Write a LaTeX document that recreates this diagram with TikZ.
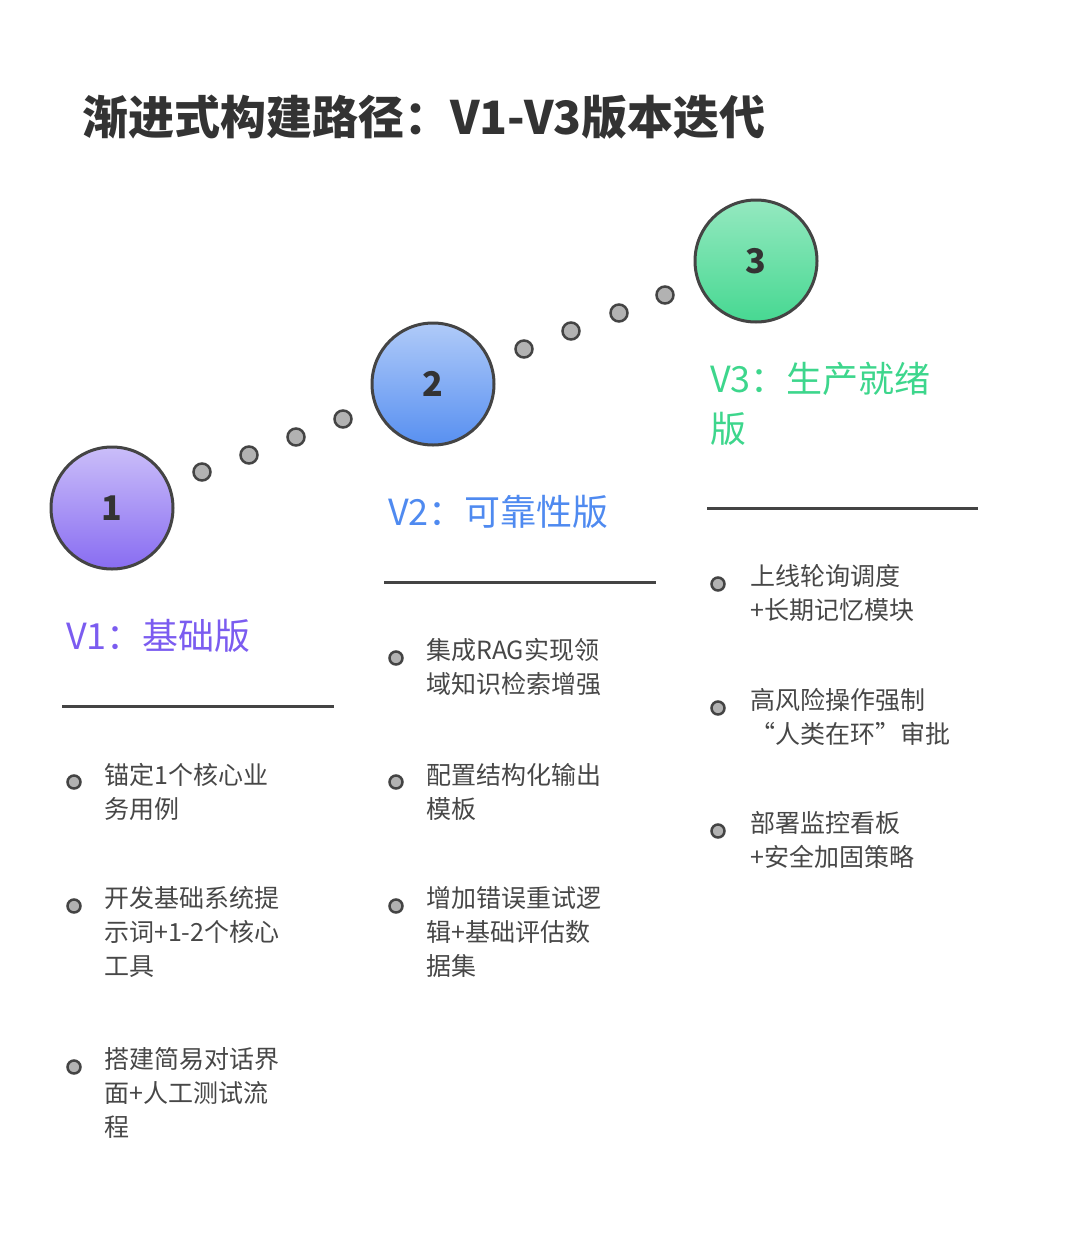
\documentclass[tikz,border=0pt]{standalone}
\usepackage{fontspec}
\setmainfont{Noto Sans CJK SC}
\usetikzlibrary{positioning}
\definecolor{ink}{HTML}{333333}
\definecolor{edge}{HTML}{444444}
\definecolor{vone}{HTML}{7B5CF0}
\definecolor{vtwo}{HTML}{4F8AF0}
\definecolor{vthree}{HTML}{3DD68C}
\tikzset{
  stage/.style={circle,draw=edge,line width=3pt,minimum size=122pt,inner sep=0pt,
    font=\fontsize{34}{34}\selectfont\bfseries,text=ink},
  dot/.style={circle,draw=edge,line width=2.5pt,fill=gray!60,minimum size=17pt,inner sep=0pt},
  head/.style={anchor=west,inner sep=0pt,font=\fontsize{36}{50}\selectfont,align=left},
  item/.style={anchor=north west,inner sep=0pt,font=\fontsize{25}{34}\selectfont,
    text=ink!90,align=left},
  bullet/.style={circle,draw=edge,line width=2.5pt,fill=gray!60,minimum size=13pt,inner sep=0pt},
  rule/.style={draw=edge,line width=3pt}
}
\begin{document}
\begin{tikzpicture}[x=1pt,y=-1pt]
\useasboundingbox (0,0) rectangle (1080,1256);
% title
\node[anchor=west,inner sep=0pt,font=\fontsize{46}{46}\selectfont\bfseries,text=ink]
  (title) at (82,117) {渐进式构建路径：V1-V3版本迭代};
% stages
\node[stage,top color=vone!40,bottom color=vone!90] (s1) at (112,508) {1};
\node[stage,top color=vtwo!45,bottom color=vtwo!95] (s2) at (433,384) {2};
\node[stage,top color=vthree!55,bottom color=vthree!95] (s3) at (756,261) {3};
% dots
\foreach \x/\y [count=\i] in {202/472,249/455,296/437,343/419,524/349,571/331,619/313,665/295}
  \node[dot] (d\i) at (\x,\y) {};
% headings
\node[head,text=vone] (h1) at (66,636) {V1：基础版};
\node[head,text=vtwo] (h2) at (388,512) {V2：可靠性版};
\node[head,text=vthree,anchor=north west] (h3) at (710,362) {V3：生产就绪\\版};
\draw[rule] (62,706) -- (334,706);
\draw[rule] (384,582) -- (656,582);
\draw[rule] (707,508) -- (978,508);
% items V1
\node[bullet] (b11) at (74,782) {};
\node[item] (i11) at (104,763) {锚定1个核心业\\务用例};
\node[bullet] (b12) at (74,906) {};
\node[item] (i12) at (104,886) {开发基础系统提\\示词+1-2个核心\\工具};
\node[bullet] (b13) at (74,1067) {};
\node[item] (i13) at (104,1047) {搭建简易对话界\\面+人工测试流\\程};
% items V2
\node[bullet] (b21) at (396,658) {};
\node[item] (i21) at (426,638) {集成RAG实现领\\域知识检索增强};
\node[bullet] (b22) at (396,782) {};
\node[item] (i22) at (426,763) {配置结构化输出\\模板};
\node[bullet] (b23) at (396,906) {};
\node[item] (i23) at (426,886) {增加错误重试逻\\辑+基础评估数\\据集};
% items V3
\node[bullet] (b31) at (718,584) {};
\node[item] (i31) at (750,564) {上线轮询调度\\+长期记忆模块};
\node[bullet] (b32) at (718,708) {};
\node[item] (i32) at (750,688) {高风险操作强制\\“人类在环”审批};
\node[bullet] (b33) at (718,831) {};
\node[item] (i33) at (750,811) {部署监控看板\\+安全加固策略};
\end{tikzpicture}
\end{document}
